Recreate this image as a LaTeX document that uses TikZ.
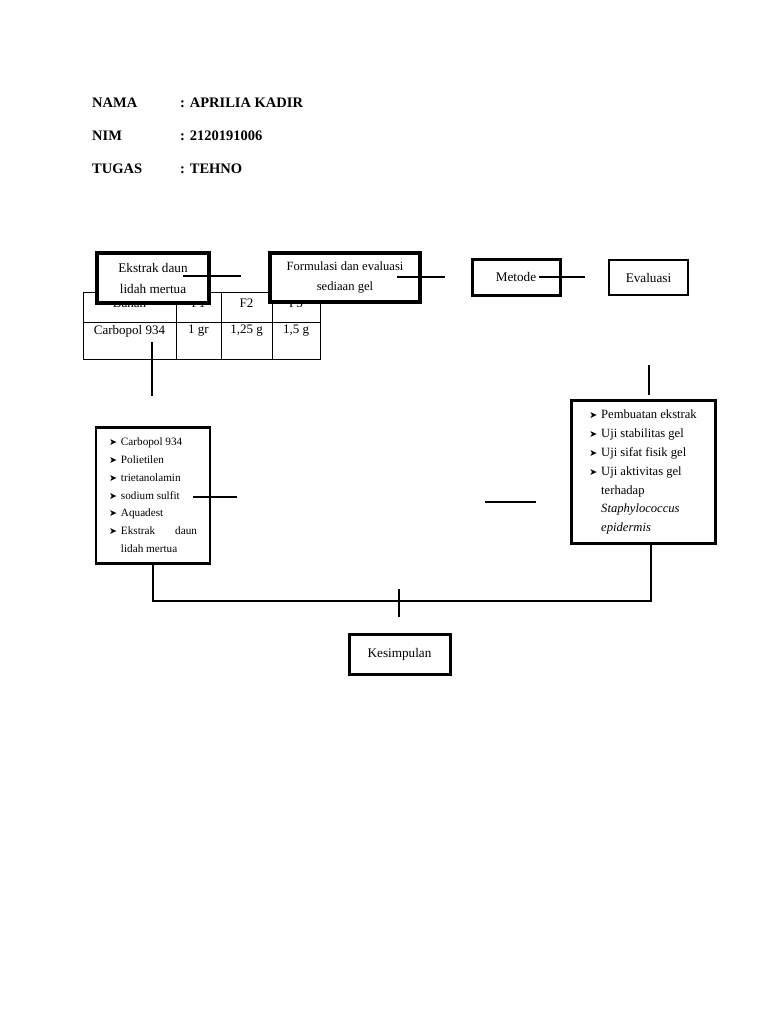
\documentclass[tikz,border=0pt]{standalone}
\usepackage{fontspec}
\setmainfont{Liberation Serif}
\newfontfamily\dejavu{DejaVu Sans}
\newcommand{\arr}{{\dejavu\fontsize{9.5}{9.5}\selectfont ➤}}
\begin{document}
\begin{tikzpicture}[x=1pt,y=-1pt,
  hdr/.style={anchor=west,inner sep=0pt,font=\fontsize{14.5}{17}\selectfont\bfseries},
  cell/.style={inner sep=0pt,font=\fontsize{13}{15}\selectfont},
  tbl/.style={line width=0.8pt},
  box/.style={draw,fill=white,inner sep=0pt,align=center,font=\fontsize{13.2}{21}\selectfont},
  link/.style={line width=2.5pt}]
\useasboundingbox (0,0) rectangle (768,1024);
% header
\node[hdr] (nama) at (92,102.5) {NAMA};
\node[hdr] (namav) at (180,102.5) {: APRILIA KADIR};
\node[hdr] (nim) at (92,135.5) {NIM};
\node[hdr] (nimv) at (180,135.5) {: 2120191006};
\node[hdr] (tugas) at (92,168.5) {TUGAS};
\node[hdr] (tugasv) at (180,168.5) {: TEHNO};
% table
\draw[tbl] (83,292) rectangle (320,359);
\draw[tbl] (83,322) -- (320,322);
\draw[tbl] (176,292) -- (176,359) (221,292) -- (221,359) (272,292) -- (272,359);
\node[cell] (t11) at (129.5,303) {Bahan};
\node[cell] (t12) at (198.5,303) {F1};
\node[cell] (t13) at (246.5,303) {F2};
\node[cell] (t14) at (296,303) {F3};
\node[cell] (t21) at (129.5,331) {Carbopol 934};
\node[cell] (t22) at (198.5,331) {1 gr};
\node[cell] (t23) at (246.5,331) {1,25 g};
\node[cell] (t24) at (296,331) {1,5 g};
% top boxes
\node[box,line width=3.3pt,minimum width=112pt,minimum height=50pt] (ekstrak) at (153,278) {Ekstrak daun\\lidah mertua};
\node[box,line width=3.3pt,minimum width=150pt,minimum height=49pt,font=\fontsize{12.6}{20}\selectfont] (formulasi) at (345,277.5) {Formulasi dan evaluasi\\sediaan gel};
\node[box,line width=3pt,minimum width=88pt,minimum height=36pt] (metode) at (516,277) {Metode};
\node[box,line width=2pt,minimum width=79pt,minimum height=35pt] (evaluasi) at (648.5,277.5) {Evaluasi};
% list boxes
\node[box,line width=2.5pt,minimum width=114pt,minimum height=136pt,font=\fontsize{11.2}{17.8}\selectfont] (bahanlist) at (153,495.5) {%
\begin{tabular}{@{}l@{\hspace{4pt}}l@{}}
\arr & Carbopol 934\\
\arr & Polietilen\\
\arr & trietanolamin\\
\arr & sodium sulfit\\
\arr & Aquadest\\
\arr & \hbox to 76pt{Ekstrak\hfill daun}\\
 & lidah mertua
\end{tabular}};
\node[box,line width=3pt,minimum width=144pt,minimum height=143pt,font=\fontsize{12.6}{18.8}\selectfont] (metodelist) at (643,471.5) {%
\begin{tabular}{@{}l@{\hspace{4pt}}l@{}}
\arr & Pembuatan ekstrak\\
\arr & Uji stabilitas gel\\
\arr & Uji sifat fisik gel\\
\arr & Uji aktivitas gel\\
 & terhadap\\
 & \textit{Staphylococcus}\\
 & \textit{epidermis}
\end{tabular}};
\node[box,line width=3pt,minimum width=101pt,minimum height=40pt] (kesimpulan) at (399.5,654) {Kesimpulan};
% connector coordinates
\coordinate (e1) at (183,276);
\coordinate (e2) at (241,276);
\coordinate (f1) at (397,277);
\coordinate (f2) at (445,277);
\coordinate (m1) at (539,277);
\coordinate (m2) at (585,277);
\coordinate (c1) at (152,342);
\coordinate (c2) at (152,396);
\coordinate (r1) at (649,365);
\coordinate (r2) at (649,395);
\coordinate (s1) at (193,497);
\coordinate (s2) at (237,497);
\coordinate (h1) at (485,502);
\coordinate (h2) at (536,502);
\coordinate (bl) at (153,601);
\coordinate (br) at (651,601);
\coordinate (k1) at (399,589);
\coordinate (k2) at (399,617);
\draw[link] (e1) -- (e2);
\draw[link] (f1) -- (f2);
\draw[link] (m1) -- (m2);
\draw[link] (c1) -- (c2);
\draw[link] (r1) -- (r2);
\draw[link] (s1) -- (s2);
\draw[link] (h1) -- (h2);
\draw[link] (bahanlist.south) -- (bl) -- (br) -- (metodelist.south -| br);
\draw[link] (k1) -- (k2);
\end{tikzpicture}
\end{document}
